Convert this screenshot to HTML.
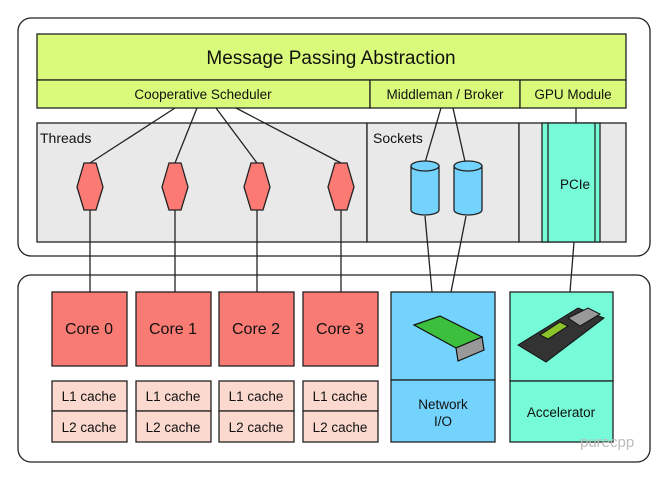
<!DOCTYPE html><html><head><style>body{margin:0;background:#fff}svg text{font-family:"Liberation Sans",sans-serif;fill:#111}</style></head><body>
<svg width="667" height="472" viewBox="0 0 667 472" xmlns="http://www.w3.org/2000/svg">
<g stroke="#222" stroke-width="1.3">
<rect x="18" y="18" width="632" height="238" rx="13" fill="#fff"/>
<rect x="18" y="275" width="632" height="187" rx="13" fill="#fff"/>
<rect x="37" y="34" width="589" height="46" fill="#d9fa7a"/>
<rect x="37" y="80" width="333" height="28" fill="#d9fa7a"/>
<rect x="370" y="80" width="150" height="28" fill="#d9fa7a"/>
<rect x="520" y="80" width="106" height="28" fill="#d9fa7a"/>
<rect x="37" y="123" width="330" height="119" fill="#e9e9e9"/>
<rect x="367" y="123" width="152" height="119" fill="#e9e9e9"/>
<rect x="519" y="123" width="107" height="119" fill="#e9e9e9"/>
<rect x="542" y="123" width="58" height="119" fill="#76fad7"/>
<line x1="548" y1="123" x2="548" y2="242"/><line x1="595" y1="123" x2="595" y2="242"/>
<line x1="175" y1="108" x2="90" y2="163"/><line x1="197" y1="108" x2="175" y2="163"/>
<line x1="216" y1="108" x2="257" y2="163"/><line x1="236" y1="108" x2="341" y2="163"/>
<line x1="441" y1="108" x2="424" y2="166"/><line x1="453" y1="108" x2="466" y2="166"/>
<line x1="576" y1="108" x2="576" y2="123"/>
<line x1="90" y1="210" x2="90" y2="292"/><line x1="175" y1="210" x2="175" y2="292"/>
<line x1="257" y1="210" x2="257" y2="292"/><line x1="341" y1="210" x2="341" y2="292"/>
<line x1="425" y1="216" x2="432" y2="292"/><line x1="466" y1="216" x2="451" y2="292"/>
<line x1="574" y1="242" x2="570" y2="292"/>
<g fill="#fb7a73">
<polygon points="84,163 96,163 103,187 96,210 84,210 77,187"/>
<polygon points="169,163 181,163 188,187 181,210 169,210 162,187"/>
<polygon points="251,163 263,163 270,187 263,210 251,210 244,187"/>
<polygon points="335,163 347,163 354,187 347,210 335,210 328,187"/>
</g>
<g fill="#74d3fd">
<path d="M411,166 v44 a14,5 0 0 0 28,0 v-44"/><ellipse cx="425" cy="166" rx="14" ry="5"/>
<path d="M454,166 v44 a14,5 0 0 0 28,0 v-44"/><ellipse cx="468" cy="166" rx="14" ry="5"/>
</g>
<g fill="#fa7b74">
<rect x="52" y="292" width="75" height="74"/><rect x="136" y="292" width="75" height="74"/>
<rect x="219" y="292" width="75" height="74"/><rect x="303" y="292" width="75" height="74"/>
</g>
<g fill="#fcd9cf">
<rect x="52" y="381" width="75" height="30"/><rect x="52" y="411" width="75" height="31"/>
<rect x="136" y="381" width="75" height="30"/><rect x="136" y="411" width="75" height="31"/>
<rect x="219" y="381" width="75" height="30"/><rect x="219" y="411" width="75" height="31"/>
<rect x="303" y="381" width="75" height="30"/><rect x="303" y="411" width="75" height="31"/>
</g>
<rect x="391" y="292" width="104" height="88" fill="#74d3fd"/><rect x="391" y="380" width="104" height="62" fill="#74d3fd"/>
<rect x="510" y="292" width="103" height="89" fill="#76fad7"/><rect x="510" y="381" width="103" height="61" fill="#76fad7"/>
</g>
<!-- NIC -->
<g stroke="#111" stroke-width="1.2">
<polygon points="414,325 440,316 482,337 456,348" fill="#3cbf3c"/>
<polygon points="456,348 482,337 484,350 458,361" fill="#999"/>
</g>
<!-- GPU -->
<g stroke="#111">
<polygon points="518,345 578,308 604,318 546,362" fill="#333"/>
<polygon points="540,335 560,322 568,326 548,339" fill="#8bc32a"/>
<polygon points="568,318 588,308 600,314 580,326" fill="#999"/>
</g>
<g font-size="19" text-anchor="middle"><text x="331" y="64">Message Passing Abstraction</text></g>
<g font-size="13.5" text-anchor="middle">
<text x="203" y="99">Cooperative Scheduler</text><text x="445" y="99">Middleman / Broker</text><text x="573" y="99">GPU Module</text>
<text x="575" y="189">PCIe</text>
<text x="89" y="401">L1 cache</text><text x="89" y="432">L2 cache</text>
<text x="173" y="401">L1 cache</text><text x="173" y="432">L2 cache</text>
<text x="256" y="401">L1 cache</text><text x="256" y="432">L2 cache</text>
<text x="340" y="401">L1 cache</text><text x="340" y="432">L2 cache</text>
<text x="443" y="409">Network</text><text x="443" y="426">I/O</text>
<text x="561" y="417">Accelerator</text>
</g>
<g font-size="14"><text x="40" y="143">Threads</text><text x="373" y="143">Sockets</text></g>
<g font-size="16" text-anchor="middle">
<text x="89" y="334">Core 0</text><text x="173" y="334">Core 1</text><text x="256" y="334">Core 2</text><text x="340" y="334">Core 3</text>
</g>
<text x="580" y="447" font-size="15" style="fill:#bbb">purecpp</text>
</svg></body></html>
